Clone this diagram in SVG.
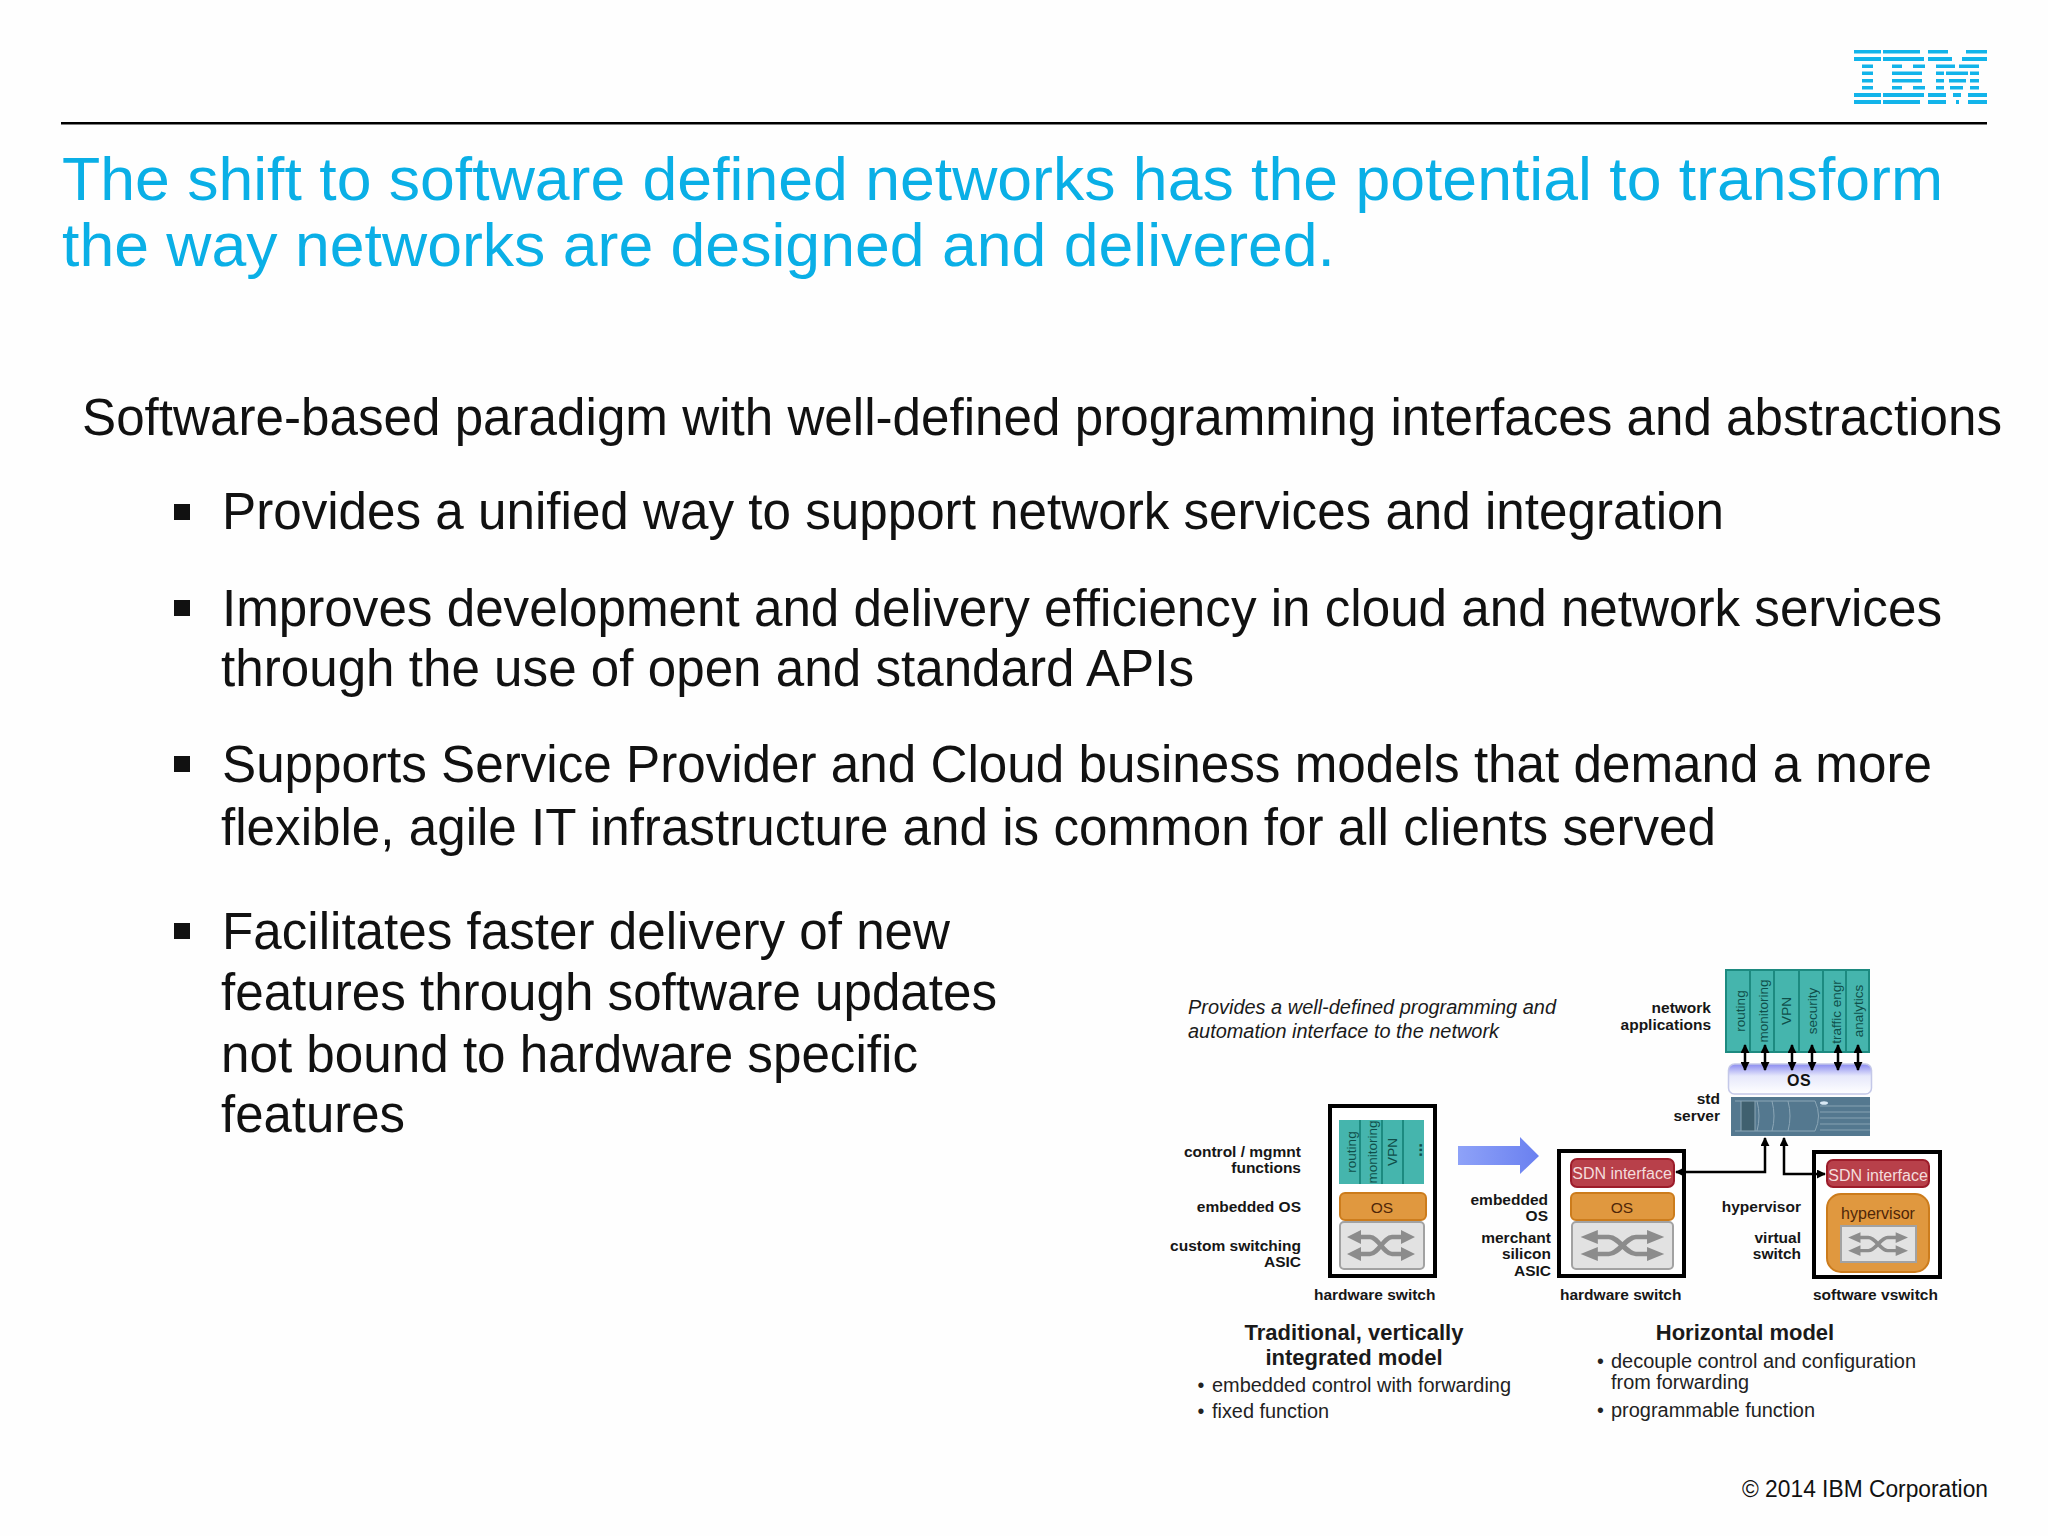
<svg xmlns="http://www.w3.org/2000/svg" xmlns:xlink="http://www.w3.org/1999/xlink" width="2048" height="1536" viewBox="0 0 2048 1536">
<style>
text{font-family:"Liberation Sans",Arial,sans-serif}
.title{font-size:62px;fill:#0aafe6}
.body{font-size:51px;fill:#111}
.lab{font-size:15.5px;font-weight:bold;fill:#161616;text-anchor:end}
.cap{font-size:15.5px;font-weight:bold;fill:#161616}
.it{font-size:19.5px;font-style:italic;fill:#1a1a1a}
.head{font-size:22px;font-weight:bold;fill:#1a1a1a;text-anchor:middle}
.txt{font-size:19.5px;fill:#222}
.app{font-size:13.5px;fill:#0f4f4a;text-anchor:middle}
.box{fill:#fff;stroke:#000;stroke-width:4}
.teal{fill:#45b5ad}
.div{stroke:#1d8a80;stroke-width:2}
.red{fill:#b8404a;stroke:#9c1c2a;stroke-width:2}
.org{fill:#e0983f;stroke:#cc7c1c;stroke-width:2}
.sdn{font-size:16px;fill:#f4dcdc;text-anchor:middle}
.ost{font-size:15.5px;fill:#4f2608;text-anchor:middle}
.sw{fill:#e2e2e2;stroke:#a2a2a2;stroke-width:2}
.con{fill:none;stroke:#000;stroke-width:2.5}
.bul{fill:#111}
.logo rect{fill:#12b4ea}
</style>
<defs>
<linearGradient id="arrowGrad" x1="0" x2="1" y1="0" y2="0"><stop offset="0" stop-color="#8ea2f8"/><stop offset="1" stop-color="#6a80f0"/></linearGradient>
<linearGradient id="osGrad" x1="0" x2="0" y1="0" y2="1"><stop offset="0" stop-color="#8a8af0"/><stop offset=".4" stop-color="#e6e8fb"/><stop offset="1" stop-color="#ffffff"/></linearGradient>
<marker id="ah" viewBox="0 0 10 10" refX="9" refY="5" markerWidth="9" markerHeight="9" markerUnits="userSpaceOnUse" orient="auto-start-reverse"><path d="M0,0L10,5L0,10z" fill="#000"/></marker>
<g id="swIcon">
<path d="M20,15H30C38,15 44,32 52,32H62M20,32H30C38,32 44,15 52,15H62" fill="none" stroke="#8c8c8c" stroke-width="4.5"/>
<path d="M7,15L21,8V22zM7,32L21,25V39zM75,15L61,8V22zM75,32L61,25V39z" fill="#8c8c8c"/>
</g>
</defs>
<rect width="2048" height="1536" fill="#fefefe"/>

<g id="ibm-logo" class="logo">
<rect x="1854" y="50" width="27" height="3.5"/><rect x="1883" y="50" width="37" height="3.5"/><rect x="1928" y="50" width="20" height="3.5"/><rect x="1966" y="50" width="21" height="3.5"/>
<rect x="1854" y="57" width="27" height="4"/><rect x="1883" y="57" width="41" height="4"/><rect x="1928" y="57" width="24" height="4"/><rect x="1962" y="57" width="25" height="4"/>
<rect x="1862" y="64.5" width="11" height="3.5"/><rect x="1892" y="64.5" width="10" height="3.5"/><rect x="1913" y="64.5" width="12" height="3.5"/><rect x="1936" y="64.5" width="19" height="3.5"/><rect x="1959" y="64.5" width="20" height="3.5"/>
<rect x="1862" y="71.5" width="11" height="3.5"/><rect x="1892" y="71.5" width="30" height="3.5"/><rect x="1936" y="71.5" width="8" height="3.5"/><rect x="1946" y="71.5" width="22" height="3.5"/><rect x="1970" y="71.5" width="9" height="3.5"/>
<rect x="1862" y="79" width="11" height="3.5"/><rect x="1892" y="79" width="30" height="3.5"/><rect x="1936" y="79" width="8" height="3.5"/><rect x="1949" y="79" width="17" height="3.5"/><rect x="1970" y="79" width="9" height="3.5"/>
<rect x="1862" y="86" width="11" height="3.5"/><rect x="1892" y="86" width="10" height="3.5"/><rect x="1913" y="86" width="12" height="3.5"/><rect x="1936" y="86" width="8" height="3.5"/><rect x="1950" y="86" width="13" height="3.5"/><rect x="1970" y="86" width="9" height="3.5"/>
<rect x="1854" y="93" width="27" height="4"/><rect x="1883" y="93" width="41" height="4"/><rect x="1928" y="93" width="18" height="4"/><rect x="1953" y="93" width="8" height="4"/><rect x="1968" y="93" width="19" height="4"/>
<rect x="1854" y="100" width="27" height="4"/><rect x="1883" y="100" width="37" height="4"/><rect x="1928" y="100" width="18" height="4"/><rect x="1956" y="100" width="3" height="4"/><rect x="1968" y="100" width="19" height="4"/>
</g>
<rect id="rule" x="61" y="122" width="1926" height="2.5" fill="#000"/>

<g id="title">
<text class="title" x="62" y="199.500" textLength="1881" lengthAdjust="spacingAndGlyphs">The shift to software defined networks has the potential to transform</text>
<text class="title" x="62" y="265.500" textLength="1273" lengthAdjust="spacingAndGlyphs">the way networks are designed and delivered.</text>
</g>

<g id="body">
<text class="body" x="82" y="435" textLength="1920" lengthAdjust="spacingAndGlyphs">Software-based paradigm with well-defined programming interfaces and abstractions</text>
<rect class="bul" x="174" y="504" width="16" height="16"/>
<text class="body" x="222" y="529" textLength="1502" lengthAdjust="spacingAndGlyphs">Provides a unified way to support network services and integration</text>
<rect class="bul" x="174" y="600" width="16" height="16"/>
<text class="body" x="222" y="626" textLength="1720" lengthAdjust="spacingAndGlyphs">Improves development and delivery efficiency in cloud and network services</text>
<text class="body" x="221" y="686" textLength="973" lengthAdjust="spacingAndGlyphs">through the use of open and standard APIs</text>
<rect class="bul" x="174" y="756" width="16" height="16"/>
<text class="body" x="222" y="782" textLength="1710" lengthAdjust="spacingAndGlyphs">Supports Service Provider and Cloud business models that demand a more</text>
<text class="body" x="221" y="845" textLength="1495" lengthAdjust="spacingAndGlyphs">flexible, agile IT infrastructure and is common for all clients served</text>
<rect class="bul" x="174" y="923" width="16" height="16"/>
<text class="body" x="222" y="949" textLength="728" lengthAdjust="spacingAndGlyphs">Facilitates faster delivery of new</text>
<text class="body" x="221" y="1010" textLength="776" lengthAdjust="spacingAndGlyphs">features through software updates</text>
<text class="body" x="221" y="1072" textLength="697" lengthAdjust="spacingAndGlyphs">not bound to hardware specific</text>
<text class="body" x="221" y="1132" textLength="184" lengthAdjust="spacingAndGlyphs">features</text>
</g>

<g id="figure-text">
<text class="it" x="1188" y="1014" textLength="368" lengthAdjust="spacingAndGlyphs">Provides a well-defined programming and</text>
<text class="it" x="1188" y="1038" textLength="311" lengthAdjust="spacingAndGlyphs">automation interface to the network</text>
<text class="lab" x="1301" y="1157">control / mgmnt</text>
<text class="lab" x="1301" y="1173">functions</text>
<text class="lab" x="1301" y="1212">embedded OS</text>
<text class="lab" x="1301" y="1251">custom switching</text>
<text class="lab" x="1301" y="1267">ASIC</text>
<text class="lab" x="1548" y="1205">embedded</text>
<text class="lab" x="1548" y="1221">OS</text>
<text class="lab" x="1551" y="1243">merchant</text>
<text class="lab" x="1551" y="1259">silicon</text>
<text class="lab" x="1551" y="1276">ASIC</text>
<text class="lab" x="1711" y="1013">network</text>
<text class="lab" x="1711" y="1030">applications</text>
<text class="lab" x="1720" y="1104">std</text>
<text class="lab" x="1720" y="1121">server</text>
<text class="lab" x="1801" y="1212">hypervisor</text>
<text class="lab" x="1801" y="1243">virtual</text>
<text class="lab" x="1801" y="1259">switch</text>
<text class="cap" x="1314" y="1300">hardware switch</text>
<text class="cap" x="1560" y="1300">hardware switch</text>
<text class="cap" x="1813" y="1300">software vswitch</text>
<text class="head" x="1354" y="1340">Traditional, vertically</text>
<text class="head" x="1354" y="1365">integrated model</text>
<text class="txt" x="1197.500" y="1392">•</text><text class="txt" x="1212" y="1392" textLength="299" lengthAdjust="spacingAndGlyphs">embedded control with forwarding</text>
<text class="txt" x="1197.500" y="1418">•</text><text class="txt" x="1212" y="1418" textLength="117" lengthAdjust="spacingAndGlyphs">fixed function</text>
<text class="head" x="1745" y="1340">Horizontal model</text>
<text class="txt" x="1597" y="1368">•</text><text class="txt" x="1611" y="1368" textLength="305" lengthAdjust="spacingAndGlyphs">decouple control and configuration</text>
<text class="txt" x="1611" y="1389" textLength="138" lengthAdjust="spacingAndGlyphs">from forwarding</text>
<text class="txt" x="1597" y="1417">•</text><text class="txt" x="1611" y="1417" textLength="204" lengthAdjust="spacingAndGlyphs">programmable function</text>
<text x="1742" y="1496.500" font-size="23" fill="#111" textLength="246" lengthAdjust="spacingAndGlyphs">© 2014 IBM Corporation</text>
</g>

<g id="traditional-switch">
<rect class="box" x="1330" y="1106" width="105" height="170"/>
<rect class="teal" x="1339" y="1120" width="85" height="64"/>
<path class="div" d="M1360,1120V1184M1382,1120V1184M1403,1120V1184"/>
<text class="app" transform="translate(1356,1152) rotate(-90)">routing</text>
<text class="app" transform="translate(1377,1152) rotate(-90)">monitoring</text>
<text class="app" transform="translate(1397,1152) rotate(-90)">VPN</text>
<text class="app" style="font-size:17px;font-weight:bold" transform="translate(1422,1150) rotate(-90)">...</text>
<rect class="org" x="1340" y="1193" width="86" height="27" rx="5"/>
<text class="ost" x="1382" y="1213">OS</text>
<rect class="sw" x="1340" y="1222" width="84" height="47" rx="4"/>
<use xlink:href="#swIcon" href="#swIcon" x="1340" y="1222"/>
</g>

<g id="transition-arrow"><path d="M1458,1146H1520V1137L1539,1156L1520,1174V1165H1458z" fill="url(#arrowGrad)"/></g>

<g id="hardware-switch">
<rect class="box" x="1559" y="1151" width="125" height="125"/>
<rect class="red" x="1571" y="1159" width="103" height="28" rx="6"/>
<text class="sdn" x="1622" y="1179">SDN interface</text>
<rect class="org" x="1571" y="1193" width="103" height="27" rx="5"/>
<text class="ost" x="1622" y="1213">OS</text>
<rect class="sw" x="1572" y="1222" width="101" height="47" rx="4"/>
<use xlink:href="#swIcon" href="#swIcon" transform="translate(1572,1222) scale(1.23,1)"/>
</g>

<g id="software-vswitch">
<rect class="box" x="1814" y="1152" width="126" height="125"/>
<rect class="red" x="1827" y="1160" width="102" height="27" rx="6"/>
<text class="sdn" x="1878" y="1181">SDN interface</text>
<rect class="org" x="1827" y="1194" width="102" height="78" rx="14"/>
<text class="ost" x="1878" y="1219" style="font-size:16px">hypervisor</text>
<rect class="sw" x="1841" y="1226" width="75" height="36"/>
<use xlink:href="#swIcon" href="#swIcon" transform="translate(1842,1226) scale(.88,.77)"/>
</g>

<g id="network-apps">
<rect x="1726" y="970" width="143" height="82" class="teal" stroke="#1d8a80" stroke-width="2"/>
<path class="div" d="M1750,970V1052M1774,970V1052M1799,970V1052M1823,970V1052M1846,970V1052"/>
<text class="app" transform="translate(1745,1011) rotate(-90)">routing</text>
<text class="app" transform="translate(1768,1011) rotate(-90)">monitoring</text>
<text class="app" transform="translate(1791,1011) rotate(-90)">VPN</text>
<text class="app" transform="translate(1817,1011) rotate(-90)">security</text>
<text class="app" transform="translate(1841,1012) rotate(-90)">traffic engr</text>
<text class="app" transform="translate(1863,1011) rotate(-90)">analytics</text>
</g>

<g id="server-os">
<rect x="1728.500" y="1064" width="143" height="30" rx="6" fill="url(#osGrad)" stroke="#c4c8e8" stroke-width="1.500"/>
<text x="1799" y="1086" font-size="16" font-weight="bold" fill="#111" text-anchor="middle" letter-spacing=".5">OS</text>
</g>

<g id="std-server">
<rect x="1731" y="1097" width="139" height="39" fill="#54788f"/>
<rect x="1741" y="1101" width="14" height="30" fill="#40606f"/>
<path d="M1735,1101H1815Q1822,1116 1815,1131H1735M1741,1101V1131M1755,1101V1131M1757,1101Q1761,1116 1757,1131M1772,1101Q1776,1116 1772,1131M1788,1101Q1792,1116 1788,1131" fill="none" stroke="#8ba6b6" stroke-width="1"/>
<path d="M1820,1106H1870M1820,1112H1870M1820,1118H1870M1820,1124H1870M1820,1130H1870" stroke="#86a2b2" stroke-width="1"/>
<ellipse cx="1824" cy="1103" rx="4" ry="1.800" fill="#d8e8f4"/>
</g>

<g id="connectors">
<path class="con" d="M1745,1045V1070" marker-start="url(#ah)" marker-end="url(#ah)"/>
<path class="con" d="M1765,1045V1070" marker-start="url(#ah)" marker-end="url(#ah)"/>
<path class="con" d="M1792,1045V1070" marker-start="url(#ah)" marker-end="url(#ah)"/>
<path class="con" d="M1812,1045V1070" marker-start="url(#ah)" marker-end="url(#ah)"/>
<path class="con" d="M1838,1045V1070" marker-start="url(#ah)" marker-end="url(#ah)"/>
<path class="con" d="M1858,1045V1070" marker-start="url(#ah)" marker-end="url(#ah)"/>
<path class="con" d="M1765,1138V1172H1676" marker-start="url(#ah)" marker-end="url(#ah)"/>
<path class="con" d="M1784,1138V1174H1825" marker-start="url(#ah)" marker-end="url(#ah)"/>
</g>
</svg>
